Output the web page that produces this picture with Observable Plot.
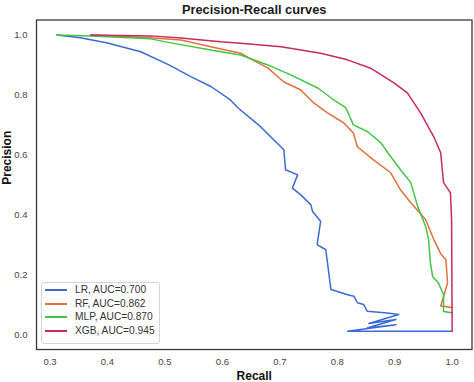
<!DOCTYPE html>
<html><head><meta charset="utf-8">
<script src="https://cdn.jsdelivr.net/npm/d3@7"></script>
<script src="https://cdn.jsdelivr.net/npm/@observablehq/plot@0.6"></script>
<style>
body{margin:0;background:#fff;}
#wrap{position:relative;width:474px;height:382px;font-family:"Liberation Sans",Arial,sans-serif;overflow:hidden;}
#title{height:18px;line-height:20.5px;font-size:12.8px;font-weight:bold;text-align:center;padding-left:34.4px;color:#1a1a1a;white-space:nowrap;}
#legend{position:absolute;left:41px;top:282px;width:119px;height:62px;box-sizing:border-box;border:1px solid #d4d4d4;border-radius:3px;background:rgba(255,255,255,0.85);}
.row{position:absolute;left:0;height:14px;line-height:14px;font-size:10.2px;color:#333;white-space:nowrap;}
.sw{position:absolute;left:3px;top:6px;width:22px;height:2px;}
.lab{position:absolute;left:33px;top:0;}
</style></head>
<body><div id="wrap"><div id="title">Precision-Recall curves</div><div id="chart"></div><div id="legend"></div></div>
<script>
const models = ["LR, AUC=0.700", "RF, AUC=0.862", "MLP, AUC=0.870", "XGB, AUC=0.945"];
const colors = ["#3a6bd4", "#e3703c", "#44c444", "#c62b5c"];
const xTicks = [0.3, 0.4, 0.5, 0.6, 0.7, 0.8, 0.9, 1.0];
const yTicks = [0.0, 0.2, 0.4, 0.6, 0.8, 1.0];

const lrRecall = [0.312, 0.353, 0.400, 0.458, 0.507, 0.545, 0.580, 0.614, 0.627, 0.667, 0.707, 0.710, 0.731, 0.722, 0.736, 0.754, 0.757, 0.771, 0.765, 0.780, 0.783, 0.786, 0.789, 0.818, 0.829, 0.835, 0.846, 0.852, 0.887, 0.907, 0.855, 0.902, 0.852, 0.902, 0.818, 1.0];
const lrPrecision = [1.0, 0.991, 0.973, 0.944, 0.90, 0.861, 0.828, 0.783, 0.757, 0.693, 0.617, 0.55, 0.533, 0.489, 0.467, 0.433, 0.411, 0.378, 0.30, 0.283, 0.239, 0.194, 0.15, 0.133, 0.128, 0.106, 0.10, 0.078, 0.072, 0.067, 0.037, 0.05, 0.022, 0.033, 0.011, 0.011];

const rfRecall = [0.371, 0.475, 0.528, 0.580, 0.632, 0.649, 0.679, 0.707, 0.736, 0.759, 0.783, 0.811, 0.828, 0.835, 0.863, 0.893, 0.910, 0.928, 0.954, 0.968, 0.980, 0.989, 0.992, 0.985, 0.980, 1.0];
const rfPrecision = [1.0, 0.991, 0.983, 0.961, 0.939, 0.92, 0.89, 0.843, 0.817, 0.773, 0.74, 0.707, 0.673, 0.627, 0.583, 0.54, 0.483, 0.44, 0.383, 0.317, 0.27, 0.25, 0.173, 0.127, 0.095, 0.09];

const mlpRecall = [0.312, 0.371, 0.475, 0.515, 0.580, 0.632, 0.679, 0.719, 0.766, 0.794, 0.815, 0.828, 0.853, 0.876, 0.888, 0.910, 0.928, 0.940, 0.954, 0.959, 0.962, 0.966, 0.976, 0.985, 0.985, 1.0];
const mlpPrecision = [1.0, 0.997, 0.987, 0.972, 0.95, 0.933, 0.9, 0.867, 0.823, 0.783, 0.757, 0.70, 0.677, 0.64, 0.607, 0.55, 0.507, 0.427, 0.36, 0.317, 0.24, 0.193, 0.173, 0.133, 0.077, 0.073];

const xgbRecall = [0.371, 0.475, 0.528, 0.597, 0.632, 0.702, 0.771, 0.818, 0.858, 0.898, 0.922, 0.945, 0.968, 0.980, 0.985, 0.997, 0.999, 1.0];
const xgbPrecision = [1.0, 0.997, 0.99, 0.977, 0.972, 0.961, 0.939, 0.917, 0.889, 0.841, 0.807, 0.74, 0.66, 0.607, 0.507, 0.473, 0.383, 0.011];

const rows = [];
function add(name, rec, prec) { rec.forEach((r, i) => rows.push({model: name, recall: r, precision: prec[i]})); }
add(models[0], lrRecall, lrPrecision);
add(models[1], rfRecall, rfPrecision);
add(models[2], mlpRecall, mlpPrecision);
add(models[3], xgbRecall, xgbPrecision);

const chart = Plot.plot({
  width: 474, height: 364,
  marginLeft: 36, marginRight: 2.5, marginTop: 1.5, marginBottom: 33,
  style: {fontFamily: "Liberation Sans, Arial, sans-serif", fontSize: "9.5px", color: "#444", background: "white"},
  x: {domain: [0.2765, 1.0345]},
  y: {domain: [-0.05, 1.05]},
  color: {domain: models, range: colors},
  marks: [
    Plot.axisX(xTicks, {tickSize: 0, tickPadding: 9, tickFormat: d => d.toFixed(1), label: null, fontSize: 9.5, color: "#444"}),
    Plot.axisY(yTicks, {tickSize: 0, tickPadding: 9, tickFormat: d => d.toFixed(1), label: null, fontSize: 9.5, color: "#444"}),
    Plot.line(rows, {x: "recall", y: "precision", z: "model", stroke: "model", strokeWidth: 1.5}),
    Plot.frame({stroke: "#333", strokeWidth: 1.25}),
    Plot.text(["Recall"], {text: d => d, frameAnchor: "bottom", dy: 30.3, lineAnchor: "bottom", fontWeight: "bold", fontSize: 12, fill: "#111"}),
    Plot.text(["Precision"], {text: d => d, frameAnchor: "left", dx: -26, rotate: -90, lineAnchor: "bottom", fontWeight: "bold", fontSize: 12, fill: "#111"})
  ]
});
chart.style.display = "block";
document.getElementById("chart").appendChild(chart);

const legend = document.getElementById("legend");
models.forEach((m, i) => {
  const row = document.createElement("div");
  row.className = "row";
  row.style.top = (i * 13.5) + "px";
  row.style.width = "117px";
  const sw = document.createElement("div");
  sw.className = "sw";
  sw.style.background = colors[i];
  const lab = document.createElement("div");
  lab.className = "lab";
  lab.textContent = m;
  row.appendChild(sw);
  row.appendChild(lab);
  legend.appendChild(row);
});
</script>
</body></html>
